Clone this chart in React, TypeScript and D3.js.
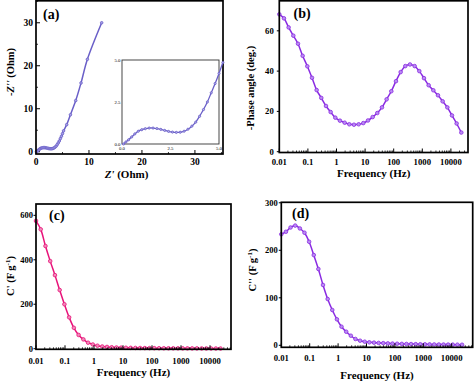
import React from 'react';
import * as d3 from 'd3';

// ---------- data ----------
const FREQ = [0.01, 0.01456, 0.0212, 0.0309, 0.045, 0.0655, 0.0954, 0.139, 0.202, 0.294,
  0.429, 0.624, 0.909, 1.32, 1.93, 2.81, 4.08, 5.95, 8.66, 12.6,
  18.4, 26.7, 38.9, 56.6, 82.4, 120, 175, 255, 371, 540,
  786, 1145, 1667, 2427, 3533, 5145, 7490, 10900, 15880, 23120];

const PHASE = [68.2, 66.2, 61.7, 57.6, 53.6, 47.6, 42.4, 36.7, 30.6, 26.7,
  22.7, 19.7, 16.9, 15.4, 14.4, 13.6, 13.4, 13.6, 14.2, 15.5,
  17.2, 19.2, 22.0, 26.0, 30.0, 35.0, 39.5, 42.5, 43.3, 42.5,
  40.0, 36.5, 33.0, 30.5, 28.0, 25.0, 22.0, 18.0, 14.0, 9.5];

const C_REAL = [575, 537, 462, 394, 331, 264, 200, 141, 94, 62,
  42, 27, 19, 13.5, 10, 8, 6.5, 5.5, 4.8, 4.2,
  3.8, 3.4, 3.1, 2.8, 2.6, 2.4, 2.2, 2.0, 1.9, 1.8,
  1.7, 1.6, 1.5, 1.4, 1.3, 1.2, 1.1, 1.0, 0.9, 0.8];

const C_IMAG = [233.7, 239, 248, 252, 246, 237, 218, 190, 160.6, 127,
  97.5, 74.3, 54.7, 39.2, 28.6, 20.2, 13.3, 9.7, 7.6, 6.3,
  5.6, 5.0, 4.5, 4.0, 3.6, 3.3, 3.0, 2.8, 2.6, 2.4,
  2.2, 2.0, 1.9, 1.8, 1.7, 1.6, 1.5, 1.4, 1.3, 1.2];

const Z_RE = [0.08, 0.2, 0.34, 0.5, 0.66, 0.84, 1.02, 1.2, 1.4, 1.6, 1.8, 2.0, 2.2, 2.4, 2.6, 2.8,
  3.0, 3.2, 3.4, 3.6, 3.8, 4.0, 4.2, 4.4, 4.6, 4.8, 5.0, 5.2, 5.8, 6.5, 7.5, 8.5, 9.7, 12.4];
const Z_IM = [0.0, 0.12, 0.25, 0.42, 0.6, 0.76, 0.85, 0.91, 0.95, 0.95, 0.92, 0.87, 0.81, 0.75, 0.71, 0.69,
  0.7, 0.76, 0.88, 1.06, 1.3, 1.65, 2.05, 2.5, 3.05, 3.6, 4.2, 4.85, 6.3, 8.6, 11.9, 16.0, 21.5, 30.0];

const LOG_TICKS = [0.01, 0.1, 1, 10, 100, 1000, 10000];
const LOG_TICK_LABELS = ['0.01', '0.1', '1', '10', '100', '1000', '10000'];
const NYQ_TICKS = [0, 10, 20, 30];
const NYQ_MINOR = [5, 15, 25, 35];
const INSET_TICKS = [0, 2.5, 5];
const INSET_LABELS = ['0.0', '2.5', '5.0'];
const PHASE_TICKS = [0, 20, 40, 60];
const CR_TICKS = [0, 200, 400, 600];
const CI_TICKS = [0, 100, 200, 300];

const FONT = 'Liberation Serif, DejaVu Serif, serif';
const minorLog = (() => {
  const out: number[] = [];
  for (let e = -2; e <= 4; e++) for (let m = 2; m <= 9; m++) out.push(m * Math.pow(10, e));
  return out;
})();

type Geo = { L: number; R: number; T: number; B: number };

function Frame({ g }: { g: Geo }) {
  return <rect x={g.L} y={g.T} width={g.R - g.L} height={g.B - g.T} fill="none" stroke="#000" strokeWidth={1.7} />;
}

function LogXAxis({ g, x, labelDy, title, titleY }: any) {
  const cx = (g.L + g.R) / 2;
  return (
    <g>
      {minorLog.filter(v => v > x.domain()[0] && v < x.domain()[1]).map((v, i) => (
        <line key={'m' + i} x1={x(v)} x2={x(v)} y1={g.B} y2={g.B - 2} stroke="#000" strokeWidth={0.8} />
      ))}
      {LOG_TICKS.map((v, i) => (
        <g key={i}>
          <line x1={x(v)} x2={x(v)} y1={g.B} y2={g.B - 4} stroke="#000" strokeWidth={1} />
          <text x={x(v)} y={g.B + labelDy} textAnchor="middle" fontSize={8.7} fontWeight="bold" fontFamily={FONT}>{LOG_TICK_LABELS[i]}</text>
        </g>
      ))}
      <text x={cx} y={titleY} textAnchor="middle" fontSize={11} fontWeight="bold" fontFamily={FONT}>{title}</text>
    </g>
  );
}

function YAxis({ g, y, ticks, gap, fs }: any) {
  return (
    <g>
      {ticks.map((v: number, i: number) => (
        <g key={i}>
          <line x1={g.L} x2={g.L - 2.5} y1={y(v)} y2={y(v)} stroke="#000" strokeWidth={1} />
          <text x={g.L - gap} y={y(v)} dy="0.35em" textAnchor="end" fontSize={fs} fontWeight="bold" fontFamily={FONT}>{v}</text>
        </g>
      ))}
    </g>
  );
}

function Series({ x, y, xs, ys, color, fill, r, sw }: any) {
  const pts = xs.map((v: number, i: number) => [x(v), y(ys[i])] as [number, number]);
  const line = d3.line().curve(d3.curveCatmullRom.alpha(0.5))(pts) || '';
  return (
    <g>
      <path d={line} fill="none" stroke={color} strokeWidth={sw || 1.5} />
      {pts.map((p: [number, number], i: number) => (
        <circle key={i} cx={p[0]} cy={p[1]} r={r} fill={fill} stroke={color} strokeWidth={0.8} />
      ))}
    </g>
  );
}

function PanelLabel({ x, y, text }: any) {
  return <text x={x} y={y} fontSize={14} fontWeight="bold" fontFamily={FONT}>{text}</text>;
}

export default function App() {
  // Panel A
  const gA: Geo = { L: 36, R: 223, T: 0.8, B: 154 };
  const xA = d3.scaleLinear().domain([0, 35.3]).range([gA.L, gA.R]);
  const yA = d3.scaleLinear().domain([-0.53, 35.3]).range([gA.B, 0]);
  const gI: Geo = { L: 122, R: 219, T: 60, B: 144 };
  const xI = d3.scaleLinear().domain([0, 5]).range([gI.L, gI.R]);
  const yI = d3.scaleLinear().domain([0, 5]).range([gI.B, gI.T]);
  const inIdx = Z_RE.map((v, i) => i).filter(i => Z_RE[i] <= 5.3);

  // Panel B
  const gB: Geo = { L: 279.3, R: 468, T: 0.8, B: 152.5 };
  const xB = d3.scaleLog().domain([0.01, 0.01 * Math.pow(10, (gB.R - gB.L) / 28.6)]).range([gB.L, gB.R]);
  const yB = d3.scaleLinear().domain([-0.4, 75.3]).range([gB.B, 0]);

  // Panel C
  const gC: Geo = { L: 36, R: 231, T: 204, B: 349.3 };
  const xC = d3.scaleLog().domain([0.01, 0.01 * Math.pow(10, (gC.R - gC.L) / 29)]).range([gC.L, gC.R]);
  const yC = d3.scaleLinear().domain([-2.7, 651]).range([gC.B, gC.T]);

  // Panel D
  const gD: Geo = { L: 281.3, R: 472.7, T: 202.3, B: 347.3 };
  const xD = d3.scaleLog().domain([0.01, 0.01 * Math.pow(10, (gD.R - gD.L) / 28.4)]).range([gD.L, gD.R]);
  const yD = d3.scaleLinear().domain([-4.2, 301]).range([gD.B, gD.T]);

  const purple = '#8a2be2';
  const purpleFill = '#b98cf2';
  const slate = '#6a5fc8';
  const pink = '#e8137a';

  return (
    <svg width={474} height={383} style={{ position: 'absolute', left: 0, top: 0, background: '#fff' }}>
      <rect x={0} y={0} width={474} height={383} fill="#fff" />
      {/* ---------- Panel A ---------- */}
      <g>
        {NYQ_TICKS.map((v, i) => (
          <g key={i}>
            <line x1={xA(v)} x2={xA(v)} y1={gA.B} y2={gA.B - 4} stroke="#000" />
            <text x={xA(v)} y={165} textAnchor="middle" fontSize={9.5} fontWeight="bold" fontFamily={FONT}>{v}</text>
            <line x1={gA.L} x2={gA.L + 4} y1={yA(v)} y2={yA(v)} stroke="#000" />
            <text x={gA.L - 3} y={yA(v)} dy="0.35em" textAnchor="end" fontSize={9.5} fontWeight="bold" fontFamily={FONT}>{v}</text>
          </g>
        ))}
        {NYQ_MINOR.map((v, i) => (
          <g key={'n' + i}>
            {xA(v) < gA.R && <line x1={xA(v)} x2={xA(v)} y1={gA.B} y2={gA.B - 2} stroke="#000" strokeWidth={0.8} />}
            {yA(v) > gA.T && <line x1={gA.L} x2={gA.L + 2} y1={yA(v)} y2={yA(v)} stroke="#000" strokeWidth={0.8} />}
          </g>
        ))}
        <Series x={xA} y={yA} xs={Z_RE} ys={Z_IM} color={slate} fill="#a9a2e6" r={1.3} />
        <Frame g={gA} />
        {/* inset */}
        <rect x={gI.L} y={gI.T} width={gI.R - gI.L} height={gI.B - gI.T} fill="#fff" stroke="#333" strokeWidth={0.9} />
        {INSET_TICKS.map((v, i) => (
          <g key={'i' + i}>
            <text x={xI(v)} y={gI.B + 5.5} textAnchor="middle" fontSize={4.8} fontFamily={FONT}>{INSET_LABELS[i]}</text>
            <text x={gI.L - 1.5} y={yI(v)} dy="0.35em" textAnchor="end" fontSize={4.8} fontFamily={FONT}>{INSET_LABELS[i]}</text>
          </g>
        ))}
        <Series x={xI} y={yI} xs={inIdx.map(i => Z_RE[i])} ys={inIdx.map(i => Z_IM[i])} color={slate} fill="#b6b0ea" r={1.1} sw={1.3} />
        <PanelLabel x={43} y={19} text="(a)" />
        <text transform={`translate(14,72) rotate(-90)`} textAnchor="middle" fontSize={10.5} fontWeight="bold" fontFamily={FONT}>
          -<tspan fontStyle="italic">Z''</tspan> (Ohm)
        </text>
        <text x={(gA.L + gA.R) / 2 - 3} y={178} textAnchor="middle" fontSize={11} fontWeight="bold" fontFamily={FONT}>
          <tspan fontStyle="italic">Z'</tspan> (Ohm)
        </text>
      </g>

      {/* ---------- Panel B ---------- */}
      <g>
        <Series x={xB} y={yB} xs={FREQ} ys={PHASE} color={purple} fill={purpleFill} r={1.8} />
        <Frame g={gB} />
        <LogXAxis g={gB} x={xB} labelDy={12.5} title="Frequency (Hz)" titleY={177} />
        <YAxis g={gB} y={yB} ticks={PHASE_TICKS} gap={5.5} fs={8.7} />
        <PanelLabel x={293.5} y={18} text="(b)" />
        <text transform={`translate(254,88) rotate(-90)`} textAnchor="middle" fontSize={10.5} fontWeight="bold" fontFamily={FONT}>-Phase angle (deg.)</text>
      </g>

      {/* ---------- Panel C ---------- */}
      <g>
        <Series x={xC} y={yC} xs={FREQ} ys={C_REAL} color={pink} fill="#f08ab8" r={1.8} />
        <Frame g={gC} />
        <LogXAxis g={gC} x={xC} labelDy={14.7} title="Frequency (Hz)" titleY={375.5} />
        <YAxis g={gC} y={yC} ticks={CR_TICKS} gap={3} fs={8.5} />
        <PanelLabel x={49} y={219.5} text="(c)" />
        <text transform={`translate(14,276) rotate(-90)`} textAnchor="middle" fontSize={10.5} fontWeight="bold" fontFamily={FONT}>
          C' (F g<tspan fontSize={7} dy={-4}>-1</tspan><tspan dy={4}>)</tspan>
        </text>
      </g>

      {/* ---------- Panel D ---------- */}
      <g>
        <Series x={xD} y={yD} xs={FREQ} ys={C_IMAG} color={purple} fill={purpleFill} r={1.8} />
        <Frame g={gD} />
        <LogXAxis g={gD} x={xD} labelDy={13.4} title="Frequency (Hz)" titleY={379} />
        <YAxis g={gD} y={yD} ticks={CI_TICKS} gap={3.6} fs={8.5} />
        <PanelLabel x={292} y={218} text="(d)" />
        <text transform={`translate(256,270) rotate(-90)`} textAnchor="middle" fontSize={10.5} fontWeight="bold" fontFamily={FONT}>
          C'' (F g<tspan fontSize={7} dy={-4}>-1</tspan><tspan dy={4}>)</tspan>
        </text>
      </g>
    </svg>
  );
}
